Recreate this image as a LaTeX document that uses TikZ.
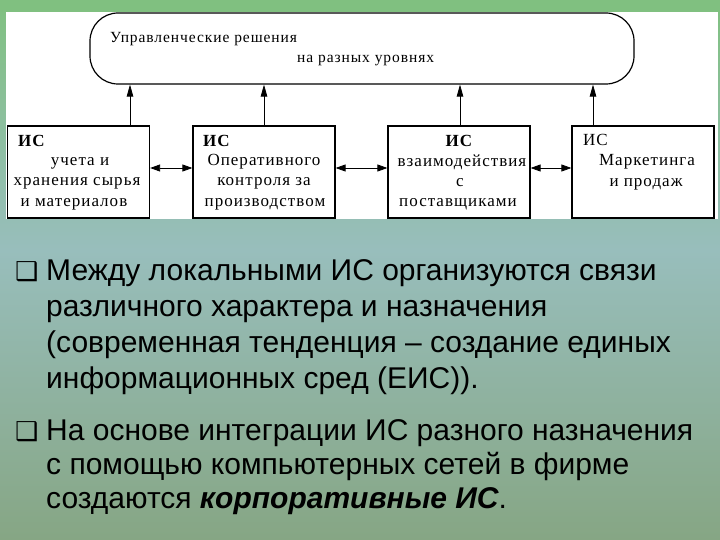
\documentclass[tikz,border=0pt]{standalone}
\usepackage{fontspec}
\setmainfont{Liberation Sans}
\newfontfamily\boxfont[LetterSpace=6]{Liberation Serif}
\newfontfamily\symfont{DejaVu Sans}
\usetikzlibrary{arrows.meta,calc}
\definecolor{TopClr}{RGB}{128,192,128}
\definecolor{MidClr}{RGB}{152,190,188}
\definecolor{LowClr}{RGB}{134,166,132}

\begin{document}
\begin{tikzpicture}[x=1pt,y=-1pt,
  isbox/.style={draw,line width=1.2pt,minimum width=142pt,minimum height=92pt,inner sep=0pt},
  lbl/.style={font=\boxfont\fontsize{17}{19}\selectfont,inner sep=0pt,anchor=base},
  lbll/.style={lbl,anchor=base west},
  toplbl/.style={lbll,font=\boxfont\fontsize{15.5}{18}\selectfont},
  up/.style={-{Triangle[length=12pt,width=6.5pt]},line width=0.8pt},
  link/.style={{Triangle[length=10pt,width=7pt]}-{Triangle[length=10pt,width=7pt]},line width=0.8pt},
  txt/.style={font=\fontsize{30}{34}\selectfont,anchor=base west,inner sep=0pt},
  blt/.style={font=\symfont\fontsize{26}{30}\selectfont,anchor=base west,inner sep=0pt}]

\useasboundingbox (0,0) rectangle (720,540);
\shade[top color=TopClr,bottom color=MidClr] (0,0) rectangle (720,250);
\shade[top color=MidClr,bottom color=LowClr] (0,250) rectangle (720,540);
\fill[TopClr] (0,0) rectangle (720,12);
\fill[white] (6,12) rectangle (718,219);

% top level
\node[draw,line width=1.2pt,rounded corners=28pt,minimum width=544pt,minimum height=71pt] (top) at (362,48.5) {};
\node[toplbl] (topa) at (110,43) {Управленческие решения};
\node[toplbl] (topb) at (297,63) {на разных уровнях};

% local IS
\node[isbox] (b1) at (78.5,172) {};
\node[isbox] (b2) at (264,172) {};
\node[isbox] (b3) at (459,172) {};
\node[isbox] (b4) at (643,172) {};

\node[lbll] (b1h) at (18,147) {\bfseries ИС};
\node[lbl] (b1a) at (80,166) {учета и};
\node[lbl] (b1b) at (77,186) {хранения сырья};
\node[lbl] (b1c) at (74,207) {и материалов};

\node[lbll] (b2h) at (203,147) {\bfseries ИС};
\node[lbl] (b2a) at (264,166) {Оперативного};
\node[lbl] (b2b) at (264,186) {контроля за};
\node[lbl] (b2c) at (265,207) {производством};

\node[lbl] (b3h) at (459,147) {\bfseries ИС};
\node[lbl] (b3a) at (462,167) {взаимодействия};
\node[lbl] (b3b) at (460,187) {с};
\node[lbl] (b3c) at (458,207) {поставщиками};

\node[lbll] (b4h) at (583,146) {ИС};
\node[lbl] (b4a) at (647,166) {Маркетинга};
\node[lbl] (b4b) at (646,187) {и продаж};

\draw[up] ([xshift=51.5pt]b1.north) -- ([xshift=51.5pt]b1.north |- top.south);
\draw[up] (b2.north) -- (b2.north |- top.south);
\draw[up] ([xshift=1pt]b3.north) -- ([xshift=1pt]b3.north |- top.south);
\draw[up] ([xshift=-50pt]b4.north) -- ([xshift=-50pt]b4.north |- top.south);

\draw[link] ([yshift=4pt]b1.east) -- ([yshift=4pt]b2.west);
\draw[link] ([yshift=4pt]b2.east) -- ([yshift=4pt]b3.west);
\draw[link] ([yshift=4pt]b3.east) -- ([yshift=4pt]b4.west);

% text
\node[blt] (q1) at (15,280) {❑};
\node[txt] (t1a) at (46,280) {Между локальными ИС организуются связи};
\node[txt] (t1b) at (46,316) {различного характера и назначения};
\node[txt] (t1c) at (46,352) {(современная тенденция – создание единых};
\node[txt] (t1d) at (46,388) {информационных сред (ЕИС)).};

\node[blt] (q2) at (15,440) {❑};
\node[txt] (t2a) at (46,440) {На основе интеграции ИС разного назначения};
\node[txt] (t2b) at (46,474) {с помощью компьютерных сетей в фирме};
\node[txt] (t2c) at (46,508) {создаются {\bfseries\itshape корпоративные ИС}.};

\end{tikzpicture}
\end{document}
